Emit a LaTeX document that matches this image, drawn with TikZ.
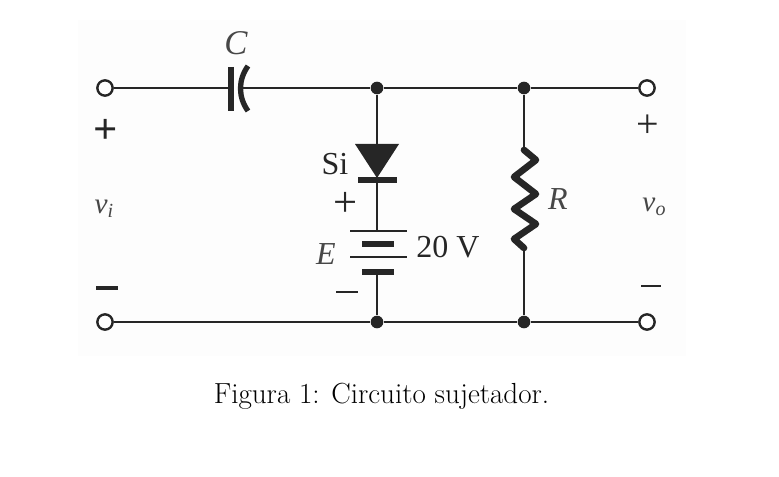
\documentclass[tikz,border=0pt]{standalone}
\usepackage{fontspec}
\newfontfamily\figfont{Liberation Serif}
\definecolor{ink}{HTML}{262626}
\definecolor{panel}{HTML}{FDFDFD}
\tikzset{
  wire/.style={draw=ink,line width=1.9pt},
  thinplate/.style={draw=ink,line width=1.5pt},
  thickplate/.style={draw=ink,line width=4pt},
  terminal/.style={circle,draw=ink,fill=white,line width=1.8pt,minimum size=11.5pt,inner sep=0pt},
  junction/.style={circle,fill=ink,minimum size=9.5pt,inner sep=0pt},
  lab/.style={text=ink,font=\figfont\fontsize{24}{26}\selectfont,inner sep=0pt},
  ilab/.style={text=ink!85,font=\figfont\itshape\fontsize{24}{26}\selectfont,inner sep=0pt},
}
\begin{document}
\begin{tikzpicture}[x=0.75pt,y=-0.75pt]
\useasboundingbox (0,0) rectangle (779,477);
\fill[white] (0,0) rectangle (779,477);
\fill[panel] (78,20) rectangle (686,356);
% nodes
\node[terminal] (tl) at (105,88) {};
\node[terminal] (tr) at (647,88) {};
\node[terminal] (bl) at (105,322) {};
\node[terminal] (br) at (647,322) {};
\node[junction] (jt1) at (377,88) {};
\node[junction] (jt2) at (524,88) {};
\node[junction] (jb1) at (377,322) {};
\node[junction] (jb2) at (524,322) {};
\coordinate (capl) at (231,88);
\coordinate (capr) at (241,88);
\coordinate (da) at (377,146);
\coordinate (dk) at (377,180);
\coordinate (bt) at (377,231);
\coordinate (bb) at (377,272);
\coordinate (rt) at (524,150);
\coordinate (rb) at (524,248);
% wires
\draw[wire] (tl) -- (capl);
\draw[wire] (capr) -- (jt1);
\draw[wire] (jt1) -- (jt2);
\draw[wire] (jt2) -- (tr);
\draw[wire] (bl) -- (jb1);
\draw[wire] (jb1) -- (jb2);
\draw[wire] (jb2) -- (br);
\draw[wire] (jt1) -- (da);
\draw[wire] (dk) -- (bt);
\draw[wire] (bb) -- (jb1);
\draw[wire] (jt2) -- (rt);
\draw[wire] (rb) -- (jb2);
% capacitor
\draw[draw=ink,line width=4.2pt] (231,67) -- (231,111);
\draw[draw=ink,line width=4pt] (248,66) .. controls (238,80) and (238,97) .. (248,111);
% diode
\fill[ink] (355,144) -- (399,144) -- (377,178) -- cycle;
\draw[thickplate] (358,180) -- (397,180);
% battery
\draw[thinplate] (350,231) -- (407,231);
\draw[thickplate] (362,244) -- (394,244);
\draw[thinplate] (350,257) -- (407,257);
\draw[thickplate] (362,272) -- (394,272);
% resistor
\draw[draw=ink,line width=5pt,line join=round,line cap=round] (rt) -- (536,160) -- (514,177) -- (536,194) -- (514,209) -- (536,224) -- (514,239) -- (rb);
% labels
\node[ilab,font=\figfont\itshape\fontsize{26}{28}\selectfont] (lc) at (236,43) {C};
\node[lab,font=\figfont\bfseries\fontsize{32}{34}\selectfont] (lpl) at (106,131) {+};
\node[ilab,font=\figfont\itshape\fontsize{22}{24}\selectfont] (lvi) at (104,209) {v\raisebox{-3pt}{\fontsize{15}{15}\selectfont\itshape i}};
\draw[draw=ink,line width=3pt] (96,288) -- (118,288);
\node[lab,font=\figfont\fontsize{30}{32}\selectfont] (lpr) at (648,126) {+};
\node[ilab,font=\figfont\itshape\fontsize{22}{24}\selectfont] (lvo) at (654,207) {v\raisebox{-3pt}{\fontsize{15}{15}\selectfont\itshape o}};
\draw[draw=ink,line width=1.8pt] (641,286) -- (661,286);
\node[lab] (lsi) at (335,164) {Si};
\node[lab,font=\figfont\fontsize{32}{34}\selectfont] (lp2) at (346,204) {+};
\node[ilab] (le) at (326,254) {E};
\node[lab] (lv) at (448,247) {20 V};
\draw[draw=ink,line width=1.6pt] (336,292) -- (358,292);
\node[ilab] (lr) at (558,199) {R};
\node[inner sep=0pt,text=black,font=\fontsize{21.8}{26}\selectfont] (cap) at (381.5,396.5) {Figura 1: Circuito sujetador.};
\end{tikzpicture}
\end{document}
